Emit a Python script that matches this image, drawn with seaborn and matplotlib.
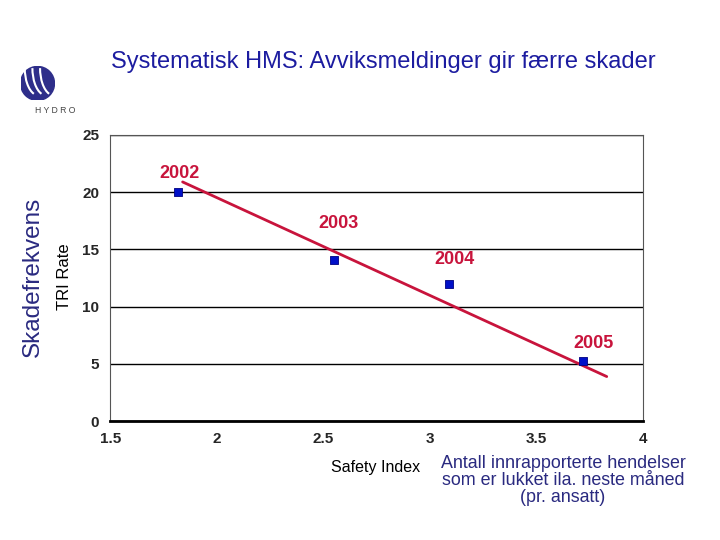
import matplotlib
matplotlib.use("Agg")
import pandas as pd
import seaborn as sns
from matplotlib import pyplot as plt
from matplotlib.patches import Circle, Arc

# values
years = ["2002", "2003", "2004", "2005"]
safety_index = [1.82, 2.55, 3.09, 3.72]
tri_rate = [20.0, 14.1, 12.0, 5.3]
trend_x = [1.84, 3.83]
trend_y = [20.9, 3.9]
x_ticks = [1.5, 2, 2.5, 3, 3.5, 4]
x_tick_labels = ["1.5", "2", "2.5", "3", "3.5", "4"]
y_ticks = [0, 5, 10, 15, 20, 25]

navy = "#2a2a80"
red = "#c8143c"

sns.set_theme(style="white")
plt.rcParams["font.family"] = ["Liberation Sans", "DejaVu Sans"]

df = pd.DataFrame({"year": years, "x": safety_index, "y": tri_rate})
trend = pd.DataFrame({"x": trend_x, "y": trend_y})

fig = plt.figure(figsize=(7.2, 5.4), dpi=100)
ax = fig.add_axes([0.153, 0.22, 0.740, 0.530])

sns.lineplot(data=trend, x="x", y="y", color=red, linewidth=2, ax=ax)
sns.scatterplot(data=df, x="x", y="y", marker="s", s=40, color="#0010c8",
                edgecolor="#000080", linewidth=0.6, ax=ax, zorder=5)

# label offsets (points) from each marker
offsets = [(0.7, 13.7), (3, 26), (4.3, 17.3), (7.2, 12.2)]
for (_, row), off in zip(df.iterrows(), offsets):
    ax.annotate(row["year"], (row["x"], row["y"]), xytext=off,
                textcoords="offset points", ha="center", va="center",
                color=red, fontsize=13, fontweight="bold")

ax.set_xlim(1.5, 4)
ax.set_ylim(0, 25)
ax.set_xticks(x_ticks)
ax.set_xticklabels(x_tick_labels)
ax.set_yticks(y_ticks)
ax.tick_params(axis="y", labelsize=11, length=0, pad=8)
ax.tick_params(axis="x", labelsize=11, length=0, pad=8)
for lab in ax.get_xticklabels() + ax.get_yticklabels():
    lab.set_fontweight("bold")
ax.yaxis.grid(True, color="black", linewidth=1)
ax.set_axisbelow(True)
for side in ["left", "top", "right"]:
    ax.spines[side].set_color("#555555")
    ax.spines[side].set_linewidth(0.8)
ax.spines["bottom"].set_color("black")
ax.spines["bottom"].set_linewidth(2)
ax.set_xlabel("")
ax.set_ylabel("")

fig.text(0.532, 0.885, "Systematisk HMS: Avviksmeldinger gir færre skader",
         ha="center", va="center", fontsize=17, color="#1c1ca0")
fig.text(0.046, 0.487, "Skadefrekvens", rotation=90, ha="center",
         va="center", fontsize=17.5, color=navy)
fig.text(0.090, 0.487, "TRI Rate", rotation=90, ha="center", va="center",
         fontsize=12, color="black")
fig.text(0.521, 0.135, "Safety Index", ha="center", va="center",
         fontsize=11.5, color="black")
fig.text(0.782, 0.111, "Antall innrapporterte hendelser\nsom er lukket ila. neste måned\n(pr. ansatt)",
         ha="center", va="center", fontsize=12.9, color=navy, linespacing=1.0)

# simple Hydro logo
logo = fig.add_axes([0.0285, 0.814, 0.0472, 0.063])
logo.set_xlim(-1, 1)
logo.set_ylim(-1, 1)
logo.set_aspect("equal")
logo.axis("off")
logo.add_patch(Circle((0, 0), 1, color="#2e2e8a"))
for cx in [-0.55, -0.1, 0.35]:
    logo.add_patch(Arc((cx + 0.6, 0.9), 1.6, 3.2, theta1=180, theta2=260,
                       color="white", linewidth=1.5))
fig.text(0.077, 0.796, "H Y D R O", ha="center", va="center", fontsize=6.2,
         color="#444444")

fig.savefig("out.png", dpi=100)
